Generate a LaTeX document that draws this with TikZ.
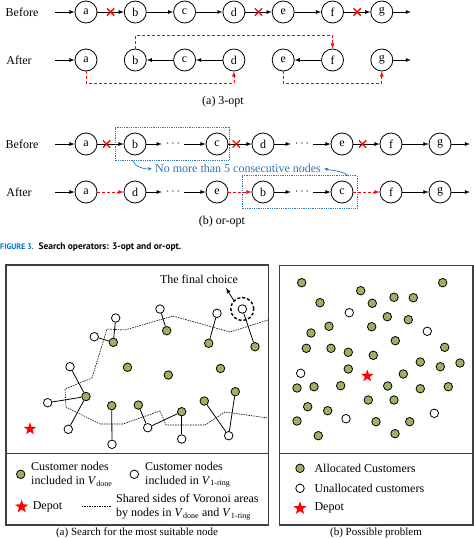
\documentclass[tikz,border=0pt]{standalone}
\usepackage{fontspec}
\setmainfont{Liberation Serif}
\newfontfamily\capfont{PT Sans}
\usetikzlibrary{arrows,shapes.geometric,shapes.misc,calc}
\definecolor{leafgreen}{RGB}{152,180,96}
\definecolor{noteblue}{RGB}{46,117,182}
\definecolor{figblue}{RGB}{0,114,188}
\tikzset{
    vertex/.style = {draw, circle, minimum size=22pt, inner sep=0pt, line width=0.8pt},
    gap/.style = {inner sep=4pt},
    arrow/.style = {draw, -latex, line width=0.8pt},
    swaparrow/.style = {draw, red, densely dashed, -latex, line width=0.8pt},
    cutx/.style = {draw=red, cross out, minimum size=6pt, inner sep=0pt, line width=1.3pt},
    blockbox/.style = {draw=noteblue, densely dotted, line width=0.8pt},
    notearrow/.style = {draw=noteblue, -stealth, line width=0.7pt},
    done/.style = {draw, circle, fill=leafgreen, minimum size=8.5pt, inner sep=0pt, line width=0.8pt},
    ring/.style = {done, fill=white},
    depot/.style = {star, star points=5, star point ratio=2.5, fill=red, inner sep=0pt, minimum size=14pt},
    panel/.style = {draw=black!75, line width=1.2pt},
    voronoi/.style = {draw, dash pattern=on 1.5pt off 1pt, line width=0.6pt},
    link/.style = {draw, line width=0.8pt}
}

\begin{document}
\begin{tikzpicture}[x=1pt, y=-1pt, node distance=49.3pt, >=latex,
    font=\fontsize{12}{14}\selectfont]
    \useasboundingbox (0,0) rectangle (474,539);

    % (a) 3-opt
    \node (before1) at (22,12) {Before};
    \coordinate (in1) at (55,12);
    \node [vertex] (a1) at (86,12) {a};
    \node [vertex, right of=a1] (b1) {b};
    \node [vertex, right of=b1] (c1) {c};
    \node [vertex, right of=c1] (d1) {d};
    \node [vertex, right of=d1] (e1) {e};
    \node [vertex, right of=e1] (f1) {f};
    \node [vertex, right of=f1] (g1) {g};
    \coordinate (out1) at (411,12);
    \draw [arrow] (in1) -- (a1);
    \draw [arrow] (a1) -- (b1);
    \draw [arrow] (b1) -- (c1);
    \draw [arrow] (c1) -- (d1);
    \draw [arrow] (d1) -- (e1);
    \draw [arrow] (e1) -- (f1);
    \draw [arrow] (f1) -- (g1);
    \draw [arrow] (g1) -- (out1);
    \node [cutx] (x1) at ($(a1)!0.5!(b1)$) {};
    \node [cutx] (x2) at ($(d1)!0.5!(e1)$) {};
    \node [cutx] (x3) at ($(f1)!0.5!(g1)$) {};

    \node (after1) at (19,60) {After};
    \coordinate (in2) at (55,60);
    \node [vertex, below of=a1, node distance=48pt] (a2) {a};
    \node [vertex, right of=a2] (b2) {b};
    \node [vertex, right of=b2] (c2) {c};
    \node [vertex, right of=c2] (d2) {d};
    \node [vertex, right of=d2] (e2) {e};
    \node [vertex, right of=e2] (f2) {f};
    \node [vertex, right of=f2] (g2) {g};
    \coordinate (out2) at (411,60);
    \draw [arrow] (in2) -- (a2);
    \draw [arrow] (c2) -- (b2);
    \draw [arrow] (d2) -- (c2);
    \draw [arrow] (f2) -- (e2);
    \draw [arrow] (g2) -- (out2);
    \draw [swaparrow] (b2.north) -- ++(0,-13) -| (f2.north);
    \draw [swaparrow] (a2.south) -- ++(0,12) -| (d2.south);
    \draw [swaparrow] (e2.south) -- ++(0,12) -| (g2.south);
    \node (cap1) at (223,102) {(a) 3-opt};

    % (b) or-opt
    \node (before3) at (22,144) {Before};
    \coordinate (in3) at (55,144);
    \node [vertex] (a3) at (86,144) {a};
    \node [vertex, right of=a3, node distance=49pt] (b3) {b};
    \node [gap] (m3) at (173,144) {$\cdots$};
    \node [vertex] (c3) at (217,144) {c};
    \node [vertex] (d3) at (263,144) {d};
    \node [gap] (n3) at (302,144) {$\cdots$};
    \node [vertex] (e3) at (342,144) {e};
    \node [vertex, right of=e3, node distance=49pt] (f3) {f};
    \node [vertex, right of=f3, node distance=49pt] (g3) {g};
    \coordinate (out3) at (470,144);
    \draw [arrow] (in3) -- (a3);
    \draw [arrow] (a3) -- (b3);
    \draw [arrow] (b3) -- (m3);
    \draw [arrow] (m3) -- (c3);
    \draw [arrow] (c3) -- (d3);
    \draw [arrow] (d3) -- (n3);
    \draw [arrow] (n3) -- (e3);
    \draw [arrow] (e3) -- (f3);
    \draw [arrow] (f3) -- (g3);
    \draw [arrow] (g3) -- (out3);
    \node [cutx] (x4) at ($(a3)!0.42!(b3)$) {};
    \node [cutx] (x5) at ($(c3)!0.42!(d3)$) {};
    \node [cutx] (x6) at ($(e3)!0.42!(f3)$) {};

    \node (after3) at (19,192) {After};
    \coordinate (in4) at (55,192);
    \node [vertex] (a4) at (86,192) {a};
    \node [vertex] (d4) at (135,192) {d};
    \node [gap] (m4) at (173,192) {$\cdots$};
    \node [vertex] (e4) at (217,192) {e};
    \node [vertex] (b4) at (263,192) {b};
    \node [gap] (n4) at (302,192) {$\cdots$};
    \node [vertex] (c4) at (342,192) {c};
    \node [vertex, right of=c4, node distance=49pt] (f4) {f};
    \node [vertex, right of=f4, node distance=49pt] (g4) {g};
    \coordinate (out4) at (470,192);
    \draw [arrow] (in4) -- (a4);
    \draw [swaparrow] (a4) -- (d4);
    \draw [arrow] (d4) -- (m4);
    \draw [arrow] (m4) -- (e4);
    \draw [swaparrow] (e4) -- (b4);
    \draw [arrow] (b4) -- (n4);
    \draw [arrow] (n4) -- (c4);
    \draw [swaparrow] (c4) -- (f4);
    \draw [arrow] (f4) -- (g4);
    \draw [arrow] (g4) -- (out4);

    \draw [blockbox] ($(b3)+(-20,-16.5)$) rectangle ($(c3)+(12,16.5)$);
    \draw [blockbox] ($(b4)+(-21,-16.5)$) rectangle ($(c4)+(15,16.5)$);
    \node [text=noteblue] (note) at (238,168.5) {No more than 5 consecutive nodes};
    \coordinate (box1s) at (133,160.5);
    \coordinate (box2n) at (348,175.5);
    \draw [notearrow] (box1s) .. controls +(1,6) and +(-8,1) .. (note.west);
    \draw [notearrow] (box2n) .. controls +(-6,-5) and +(6,2) .. (note.east);
    \node (cap2) at (222,222) {(b) or-opt};

    \node [anchor=west, inner sep=0pt] (figcap) at (0,247.5)
        {\capfont\bfseries\fontsize{9.4}{11}\selectfont\textcolor{figblue}{\fontsize{8}{10}\selectfont FIGURE 3.}\enspace Search operators: 3-opt and or-opt.};

    % (a) search panel
    \draw [panel] (6,265) rectangle (268.3,525);
    \draw [panel] (6,453.3) -- (268.3,453.3);
    \draw [voronoi] (268,320) -- (230,332) -- (173,316) -- (125,330) -- (107,329)
        -- (92,378) -- (65,389) -- (66,407) -- (100,424) -- (123,424) -- (160,411)
        -- (166,425) -- (205,425) -- (225,412) -- (268,418);
    \node [ring] (w1) at (115.7,318) {};
    \node [ring] (w2) at (94.3,336.7) {};
    \node [ring] (w3) at (160,309) {};
    \node [ring] (w4) at (217,313.3) {};
    \node [ring] (w5) at (242.3,309) {};
    \node [ring] (w6) at (70,366.7) {};
    \node [ring] (w7) at (47.7,402.7) {};
    \node [ring] (w8) at (68.3,429.3) {};
    \node [ring] (w9) at (112,444.3) {};
    \node [ring] (w10) at (147.7,427.7) {};
    \node [ring] (w11) at (181.7,439) {};
    \node [ring] (w12) at (228.7,435.7) {};
    \node [done] (v1) at (113.3,342.3) {};
    \node [done] (v2) at (166.7,330.7) {};
    \node [done] (v3) at (208.7,343.3) {};
    \node [done] (v4) at (255,346.7) {};
    \node [done] (v5) at (86,396.5) {};
    \node [done] (v6) at (111.7,405.7) {};
    \node [done] (v7) at (138.3,405) {};
    \node [done] (v8) at (181.7,411.7) {};
    \node [done] (v9) at (204.3,401) {};
    \node [done] (v10) at (235.3,391.7) {};
    \node [done] (v11) at (127.5,367.3) {};
    \node [done] (v12) at (168.3,375) {};
    \node [done] (v13) at (220.5,368.5) {};
    \draw [link] (w1) -- (v1);
    \draw [link] (w2) -- (v1);
    \draw [link] (w3) -- (v2);
    \draw [link] (w4) -- (v3);
    \draw [link] (w5) -- (v4);
    \draw [link] (w6) -- (v5);
    \draw [link] (w7) -- (v5);
    \draw [link] (w8) -- (v5);
    \draw [link] (v6) -- (w9);
    \draw [link] (v7) -- (w10);
    \draw [link] (w10) -- (v8);
    \draw [link] (v8) -- (w11);
    \draw [link] (v9) -- (w12);
    \draw [link] (v10) -- (w12);
    \node [depot, minimum size=13pt] (s1) at (30,429) {};
    \node [draw, circle, densely dashed, line width=1.4pt, minimum size=23pt] (pick) at (w5) {};
    \node (final) at (199,279) {The final choice};
    \coordinate (tip) at (226,288);
    \draw [-latex, line width=0.8pt] (pick.135) -- (tip);

    \node [done] (k1) at (20.7,474.3) {};
    \node [anchor=west, align=left] (k1t) at (27.7,474.7) {Customer nodes\\included in \textit{V}\textsubscript{done}};
    \node [ring] (k2) at (134.3,474.3) {};
    \node [anchor=west, align=left] (k2t) at (141.7,474.7) {Customer nodes\\included in \textit{V}\textsubscript{1-ring}};
    \node [depot] (k3) at (21.7,506.7) {};
    \node [anchor=west] (k3t) at (29.3,506.7) {Depot};
    \coordinate (k4a) at (81.7,506.7);
    \coordinate (k4b) at (111.7,506.7);
    \draw [voronoi] (k4a) -- (k4b);
    \node [anchor=west, align=left] (k4t) at (112.7,507) {Shared sides of Voronoi areas\\by nodes in \textit{V}\textsubscript{done} and \textit{V}\textsubscript{1-ring}};
    \node [font=\fontsize{11}{12}\selectfont, inner sep=1pt] (capa) at (137,532.5) {(a) Search for the most suitable node};

    % (b) problem panel
    \draw [panel] (279.3,265.5) rectangle (473,525);
    \draw [panel] (279.3,453.3) -- (473,453.3);
    \foreach \x/\y [count=\i] in {301.7/282.7, 442.7/282.7, 360.7/290.7, 394/297.3, 413.3/297.7,
        320/302.7, 372.3/303.3, 387.3/316.7, 408.3/319.7, 329/326.3, 371.7/326.7, 311/333,
        395.3/340.7, 306.3/348.3, 331/348.3, 348.3/352.3, 444.7/347.3, 373.3/355.3, 420.3/362,
        460/363, 440.3/366.7, 348.3/369, 403.3/374, 297/388, 314/386.7, 340.7/385.7, 387.7/386,
        420.3/388.7, 448.3/386.7, 368.3/400, 394/400, 307.7/406.7, 327.7/410.7, 376/421.7,
        409.7/421.7, 297/421, 318.3/435.7, 395/433.7}
        \node [done] (p\i) at (\x,\y) {};
    \foreach \x/\y [count=\i] in {349.3/312.7, 427.3/331.3, 300.7/373.3, 346/418.7, 434.3/413.3}
        \node [ring] (q\i) at (\x,\y) {};
    \node [depot, minimum size=13pt] (s2) at (367.3,376) {};

    \node [done] (r1) at (300,468.3) {};
    \node [anchor=west] (r1t) at (311,468.3) {Allocated Customers};
    \node [ring] (r2) at (300,488.3) {};
    \node [anchor=west] (r2t) at (311,488.3) {Unallocated customers};
    \node [depot] (r3) at (300,508.3) {};
    \node [anchor=west] (r3t) at (311,508.3) {Depot};
    \node [font=\fontsize{11}{12}\selectfont, inner sep=1pt] (capb) at (376,532.5) {(b) Possible problem};
\end{tikzpicture}
\end{document}
